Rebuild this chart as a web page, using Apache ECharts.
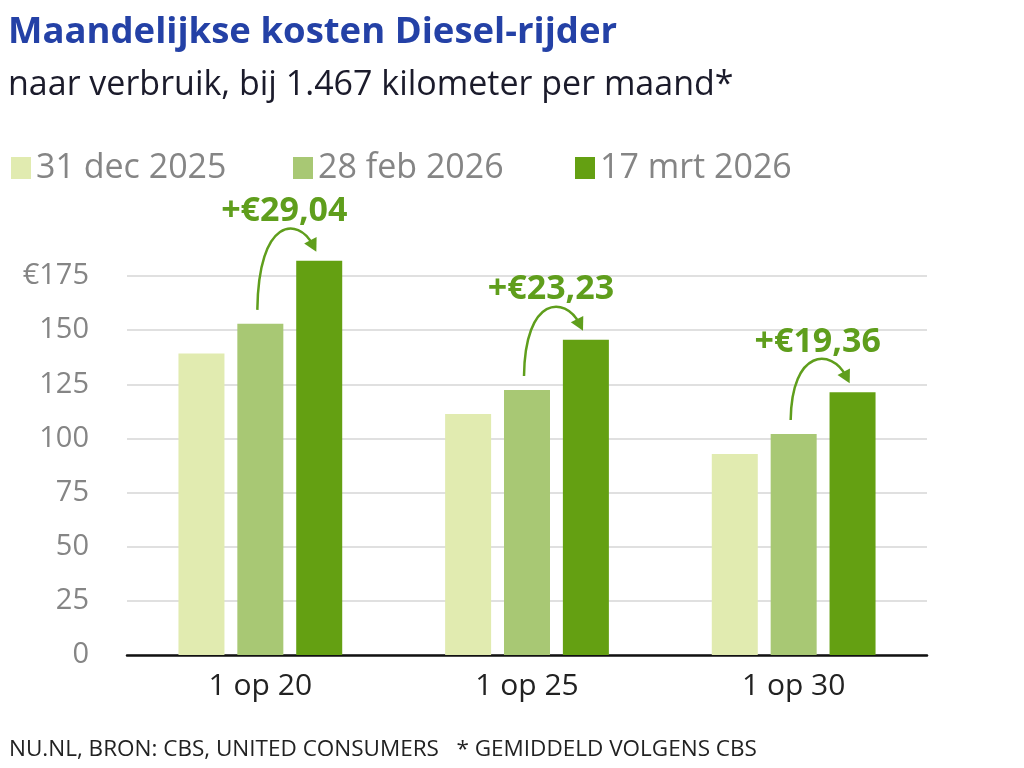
<!DOCTYPE html>
<html lang="nl">
<head>
<meta charset="utf-8" />
<title>Maandelijkse kosten Diesel-rijder</title>
<style>
  html, body { margin: 0; padding: 0; background: #fff; }
  #chart { width: 1024px; height: 768px; }
</style>
</head>
<body>
<div id="chart"></div>
<script src="https://cdn.jsdelivr.net/npm/echarts@6/dist/echarts.min.js"></script>
<script>
// verbruik categorieen
var categories = ['1 op 20', '1 op 25', '1 op 30'];
// maandkosten per peildatum (euro)
var dec2025 = [139.2, 111.3, 92.8];
var feb2026 = [152.9, 122.4, 102.0];
var mrt2026 = [182.0, 145.6, 121.3];
var seriesNames = ['31 dec 2025', '28 feb 2026', '17 mrt 2026'];
var diffLabels = ['+€29,04', '+€23,23', '+€19,36'];
var yTicks = [0, 25, 50, 75, 100, 125, 150, 175];

var green = '#5f9e1c';
var font = '"Open Sans", "Noto Sans", sans-serif';

// data voor de pijltjes: [index, feb, mrt]
var arrowData = categories.map(function (c, i) {
  return [i, feb2026[i], mrt2026[i]];
});

function renderArrow(params, api) {
  var i = api.value(0);
  var cx = api.coord([i, 0])[0];
  var yf = api.coord([i, api.value(1)])[1];
  var ym = api.coord([i, api.value(2)])[1];
  var x0 = cx - 3, y0 = yf - 14;
  var x3 = cx + 56, y3 = ym - 9;
  var c1x = cx - 2, c1y = ym - 44;
  var c2x = cx + 38, c2y = ym - 44;
  var dx = x3 - c2x, dy = y3 - c2y;
  var len = Math.sqrt(dx * dx + dy * dy);
  var ux = dx / len, uy = dy / len;
  var bx = x3 - ux * 13, by = y3 - uy * 13;
  var px = -uy, py = ux;
  return {
    type: 'group',
    children: [
      {
        type: 'bezierCurve',
        shape: { x1: x0, y1: y0, x2: x3 - ux * 8, y2: y3 - uy * 8, cpx1: c1x, cpy1: c1y, cpx2: c2x, cpy2: c2y },
        style: { stroke: green, lineWidth: 2.5, fill: null }
      },
      {
        type: 'polygon',
        shape: { points: [[x3, y3], [bx + px * 7, by + py * 7], [bx - px * 7, by - py * 7]] },
        style: { fill: green }
      },
      {
        type: 'text',
        style: {
          text: diffLabels[params.dataIndex],
          x: cx + 24, y: ym - 33,
          textAlign: 'center', textVerticalAlign: 'bottom',
          font: 'bold 34px ' + font, fill: green
        }
      }
    ]
  };
}

var chart = echarts.init(document.getElementById('chart'));

var legendBase = {
  top: 146, itemWidth: 20, itemHeight: 22, icon: 'rect', itemGap: 8,
  textStyle: { fontSize: 34, color: '#858585', fontFamily: font }
};

var option = {
  animation: false,
  textStyle: { fontFamily: font },
  title: [
    {
      text: 'Maandelijkse kosten Diesel-rijder',
      left: 3, top: 9,
      textStyle: { fontSize: 36.5, fontWeight: 'bold', color: '#2441a6', fontFamily: font }
    },
    {
      text: 'naar verbruik, bij 1.467 kilometer per maand*',
      left: 3, top: 63,
      textStyle: { fontSize: 34, fontWeight: 'normal', color: '#1b1b2b', fontFamily: font }
    },
    {
      text: 'NU.NL, BRON: CBS, UNITED CONSUMERS   * GEMIDDELD VOLGENS CBS',
      left: 4, top: 733,
      textStyle: { fontSize: 22.5, fontWeight: 'normal', color: '#222', fontFamily: font }
    }
  ],
  legend: [
    Object.assign({ left: 6, data: [seriesNames[0]] }, legendBase),
    Object.assign({ left: 288, data: [seriesNames[1]] }, legendBase),
    Object.assign({ left: 570, data: [seriesNames[2]] }, legendBase)
  ],
  grid: { left: 127, right: 97, top: 276, bottom: 113 },
  xAxis: {
    type: 'category',
    data: categories,
    axisTick: { show: false },
    axisLine: { lineStyle: { color: '#111', width: 2.5 } },
    axisLabel: { fontSize: 30, color: '#222', margin: 16, fontFamily: font }
  },
  yAxis: {
    type: 'value',
    min: 0, max: 175, interval: 25,
    axisLine: { show: false },
    axisTick: { show: false },
    splitLine: { lineStyle: { color: '#d6d6d6', width: 1.5 } },
    axisLabel: {
      fontSize: 29, color: '#858585', margin: 38, fontFamily: font,
      formatter: function (v) { return v === yTicks[yTicks.length - 1] ? '€' + v : '' + v; }
    }
  },
  series: [
    { name: seriesNames[0], type: 'bar', data: dec2025, barWidth: 46, barGap: '28%', clip: false, itemStyle: { color: '#e1ebb0' } },
    { name: seriesNames[1], type: 'bar', data: feb2026, barWidth: 46, barGap: '28%', clip: false, itemStyle: { color: '#a8c874' } },
    { name: seriesNames[2], type: 'bar', data: mrt2026, barWidth: 46, barGap: '28%', clip: false, itemStyle: { color: '#64a012' } },
    {
      name: 'verschil', type: 'custom', data: arrowData, clip: false,
      encode: { x: 0, y: [1, 2] },
      renderItem: renderArrow, silent: true, z: 5
    }
  ]
};

chart.setOption(option);
</script>
</body>
</html>
